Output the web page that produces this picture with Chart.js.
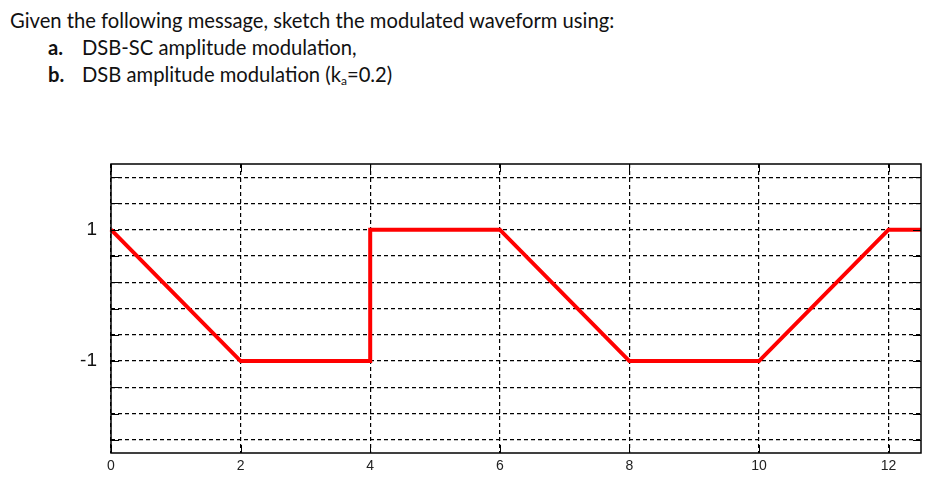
<!DOCTYPE html>
<html>
<head>
<meta charset="utf-8">
<script src="https://cdn.jsdelivr.net/npm/chart.js@4.4.0/dist/chart.umd.min.js"></script>
<style>
  html, body { margin: 0; padding: 0; background: #fff; }
  #wrap { position: relative; width: 946px; height: 501px; }
  #title { position: absolute; left: 10px; top: 7px; font-family: Lato, "Open Sans", sans-serif; font-size: 20.2px; color: #111; line-height: 27px; }
  #title .item { padding-left: 38px; }
  #title .item b { display: inline-block; width: 34px; }
  #title .sub { font-size: 12px; position: relative; top: 3px; }
  canvas { position: absolute; left: 0; top: 0; }
</style>
</head>
<body>
<div id="wrap">
  <div id="title">
    <div>Given the following message, sketch the modulated waveform using:</div>
    <div class="item"><b>a.</b>DSB-SC amplitude modulation,</div>
    <div class="item"><b>b.</b>DSB amplitude modulation (k<span class="sub">a</span>=0.2)</div>
  </div>
  <canvas id="msgChart" width="946" height="501"></canvas>
</div>
<script>
document.addEventListener('DOMContentLoaded', function () {

    // message m(t), corner points
    const timePoints = [0, 2, 4, 4, 6, 8, 10, 12, 12.5];
    const msgValues  = [1, -1, -1, 1, 1, -1, -1, 1, 1];

    // tick / grid positions
    const xTicks = [0, 2, 4, 6, 8, 10, 12];
    const yGrid = [-2.2, -1.8, -1.4, -1, -0.6, -0.2, 0.2, 0.6, 1, 1.4, 1.8];
    const yLabels = { '1': '1', '-1': '-1' };

    // frame + small inward tick marks, like the original plot
    const framePlugin = {
        id: 'frame',
        afterDatasetsDraw(chart) {
            const { ctx, chartArea: a, scales } = chart;
            ctx.save();
            ctx.strokeStyle = '#000';
            ctx.lineWidth = 1;
            ctx.setLineDash([]);
            ctx.beginPath();
            xTicks.forEach(v => {
                const px = Math.round(scales.x.getPixelForValue(v)) + 0.5;
                ctx.moveTo(px, a.top); ctx.lineTo(px, a.top + 8);
                ctx.moveTo(px, a.bottom); ctx.lineTo(px, a.bottom - 8);
            });
            yGrid.forEach(v => {
                const py = Math.round(scales.y.getPixelForValue(v)) + 0.5;
                ctx.moveTo(a.left, py); ctx.lineTo(a.left + 8, py);
                ctx.moveTo(a.right, py); ctx.lineTo(a.right - 8, py);
            });
            ctx.stroke();
            ctx.lineWidth = 1.5;
            ctx.strokeRect(a.left, a.top, a.right - a.left, a.bottom - a.top);
            ctx.restore();
        }
    };

    const ctx = document.getElementById('msgChart').getContext('2d');
    new Chart(ctx, {
        type: 'line',
        data: {
            datasets: [{
                data: timePoints.map((t, i) => ({ x: t, y: msgValues[i] })),
                borderColor: '#ff0000',
                borderWidth: 4,
                pointRadius: 0,
                tension: 0,
                fill: false,
                clip: 3
            }]
        },
        options: {
            responsive: false,
            animation: false,
            layout: { padding: { top: 164, right: 25, left: 0, bottom: 0 } },
            plugins: { legend: { display: false }, tooltip: { enabled: false } },
            scales: {
                x: {
                    type: 'linear',
                    min: 0,
                    max: 12.5,
                    afterBuildTicks: s => { s.ticks = xTicks.map(v => ({ value: v })); },
                    afterFit: s => { s.height = 48; },
                    grid: { color: '#000', lineWidth: 1.2, drawTicks: false },
                    border: { display: false, dash: [4, 3] },
                    ticks: {
                        padding: 5,
                        color: '#222',
                        font: { family: '"Liberation Sans Narrow", "Liberation Sans", sans-serif', size: 14 }
                    }
                },
                y: {
                    min: -2.4,
                    max: 2,
                    afterBuildTicks: s => { s.ticks = yGrid.map(v => ({ value: v })); },
                    afterFit: s => { s.width = 111; },
                    grid: { color: '#000', lineWidth: 1.2, drawTicks: false },
                    border: { display: false, dash: [4, 3] },
                    ticks: {
                        padding: 14,
                        color: '#111',
                        font: { family: '"Liberation Sans", sans-serif', size: 19 },
                        callback: v => yLabels[String(v)] || ''
                    }
                }
            }
        },
        plugins: [framePlugin]
    });
});
</script>
</body>
</html>
